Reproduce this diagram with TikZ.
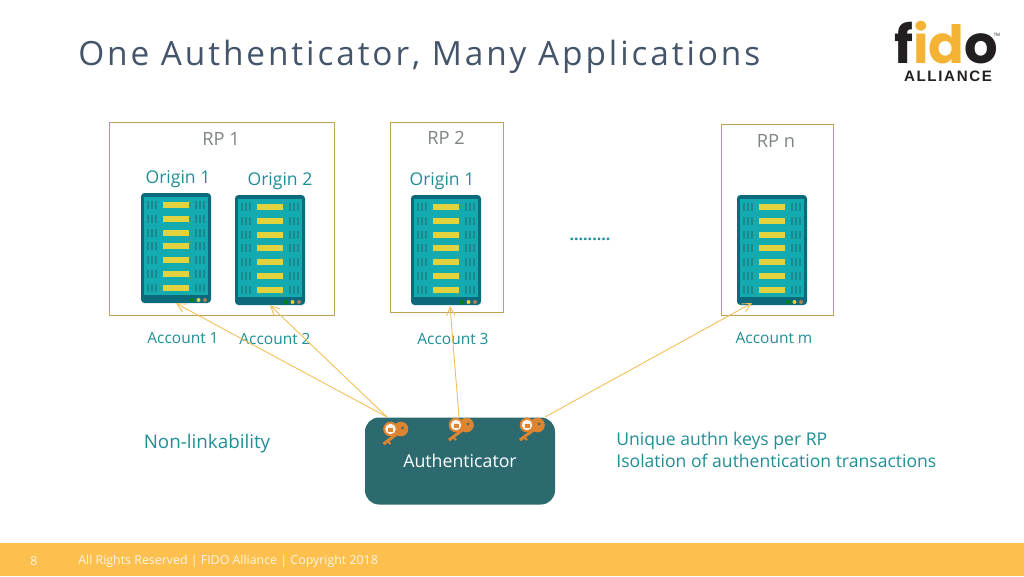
\documentclass[tikz,border=0pt]{standalone}
\usepackage{fontspec}
\setmainfont{Open Sans}
\newfontfamily\logofont{Poppins}
\newfontfamily\logosubfont[LetterSpace=11]{Liberation Sans}
\usetikzlibrary{positioning}
\usetikzlibrary{arrows.meta}

\definecolor{titleblue}{HTML}{44546A}
\definecolor{tealtext}{HTML}{1F8E96}
\definecolor{greytext}{HTML}{7F8487}
\definecolor{boxgold}{HTML}{BFA35A}
\definecolor{arrowgold}{HTML}{F2BE55}
\definecolor{barorange}{HTML}{FDC04F}
\definecolor{authteal}{HTML}{2C6A70}
\definecolor{rackdark}{HTML}{0D6A7C}
\definecolor{rackface}{HTML}{14ABB0}
\definecolor{rackvent}{HTML}{1A8A90}
\definecolor{rackbar}{HTML}{E2D33E}
\definecolor{keyorange}{HTML}{DD8430}
\definecolor{fidogold}{HTML}{F5B335}
\definecolor{fidoblack}{HTML}{231F20}

\tikzset{
  rpbox/.style={draw=boxgold, line width=0.6pt, fill=white, minimum height=0pt},
  rptext/.style={text=greytext, font=\fontsize{10.4}{12}\selectfont},
  origintext/.style={text=tealtext, font=\fontsize{10}{12}\selectfont},
  accounttext/.style={text=tealtext, font=\fontsize{8.8}{10}\selectfont},
  notetext/.style={text=tealtext, font=\fontsize{10}{12.5}\selectfont, align=left, inner sep=0pt},
  rack/.style={fill=rackdark, rounded corners=2pt, minimum width=70*0.02cm, minimum height=110*0.02cm, inner sep=0pt},
  link/.style={draw=arrowgold, line width=0.5pt, -{Straight Barb[length=5pt,width=5pt]}},
  pics/server/.style={code={
    \fill[rackface] (-32,-51) rectangle (32,47);
    \foreach \row in {-43,-29,-15,-2,12,26,40} {
      \fill[rackbar] (-13,\row-2.6) rectangle (13,\row+2.6);
      \foreach \vent in {-28,-24,-20,20,24,28}
        \fill[rackvent] (\vent-1,\row-4) rectangle (\vent+1,\row+4);
    }
    \fill[green!55!black] (16,52) circle (2);
    \fill[rackbar] (22.5,52) circle (2);
    \fill[brown!70!gray] (29,52) circle (2);
  }},
  pics/authkey/.style={code={
    \draw[keyorange, line width=1.7pt] (4,3) -- (-12,15);
    \draw[keyorange, line width=1.2pt] (-8,12) -- (-5,15);
    \fill[keyorange] (5.5,0) circle (7.3);
    \fill[authteal!80!keyorange] (7,-1) circle (1.7);
    \fill[keyorange] (-5,0) circle (7.3);
    \fill[white!90!keyorange] (-5,0) circle (5.3);
    \fill[keyorange] (-7.5,-1) rectangle (-2.5,3);
  }},
}

\begin{document}
\begin{tikzpicture}[x=0.02cm,y=-0.02cm]
  \useasboundingbox (0,0) rectangle (1024,576);

  % Title and logo
  \node[anchor=base west, inner sep=0pt, text=titleblue, font=\fontsize{19}{22}\selectfont\addfontfeature{LetterSpace=8.7}] (title) at (78,65) {One Authenticator, Many Applications};
  \node[anchor=base, inner sep=0pt, text=fidoblack, font=\logofont\fontsize{30}{30}\selectfont\bfseries] (logotext) at (946,63) {f\textcolor{fidogold}{id}o};
  \node[anchor=base, inner sep=0pt, text=fidoblack, font=\logosubfont\fontsize{8.6}{9}\selectfont\bfseries] (logosub) at (948,81) {ALLIANCE};
  \node[inner sep=0pt, text=fidoblack, font=\fontsize{2.5}{3}\selectfont] (logotm) at (997,35) {TM};

  % Relying parties
  \node[rpbox, anchor=north west, minimum width=225*0.02cm, minimum height=193*0.02cm] (rpA) at (109,122) {};
  \node[rpbox, anchor=north west, minimum width=113*0.02cm, minimum height=190*0.02cm] (rpB) at (390,122) {};
  \node[rpbox, anchor=north west, minimum width=112*0.02cm, minimum height=191*0.02cm] (rpC) at (721,124) {};

  \node[rptext] (rpAlabel) at (221,139) {RP 1};
  \node[rptext] (rpBlabel) at (446,138) {RP 2};
  \node[rptext] (rpClabel) at (776,141) {RP n};

  \node[origintext] (origA) at (178,179) {Origin 1};
  \node[origintext] (origB) at (280,181) {Origin 2};
  \node[origintext] (origC) at (442,181) {Origin 1};

  % Servers
  \node[rack] (srvA) at (176,248) {};
  \node[rack] (srvB) at (270,250) {};
  \node[rack] (srvC) at (446,250) {};
  \node[rack] (srvD) at (772,250) {};
  \pic at (srvA) {server};
  \pic at (srvB) {server};
  \pic at (srvC) {server};
  \pic at (srvD) {server};

  \node[text=tealtext, font=\fontsize{9}{11}\selectfont\bfseries] (dots) at (590,239) {.........};

  \node[accounttext] (accA) at (183,338) {Account 1};
  \node[accounttext] (accB) at (275,339) {Account 2};
  \node[accounttext] (accC) at (453,339) {Account 3};
  \node[accounttext] (accD) at (774,338) {Account m};

  % Authenticator
  \node[fill=authteal, rounded corners=8pt, minimum width=190*0.02cm, minimum height=87*0.02cm, text=white, font=\fontsize{10.1}{12}\selectfont] (auth) at (460,461) {Authenticator};

  \coordinate (keyA) at (387,417);
  \coordinate (keyB) at (459,417);
  \coordinate (keyC) at (545,417);
  \coordinate (tipC) at (450,306);
  \coordinate (tipD) at (752,303);

  \draw[link] (keyA) -- (srvA.south);
  \draw[link] (keyA) -- (srvB.south);
  \draw[link] (keyB) -- (tipC);
  \draw[link] (keyC) -- (tipD);

  \pic at (395.5,429) {authkey};
  \pic at (461,425) {authkey};
  \pic at (532,425) {authkey};

  \node[notetext, font=\fontsize{10.7}{13}\selectfont] (nonlink) at (207,444) {Non-linkability};
  \node[notetext, anchor=west] (notes) at (616,450) {Unique authn keys per RP\\Isolation of authentication transactions};

  % Footer
  \fill[barorange] (0,543) rectangle (1024,576);
  \node[text=white!85!barorange, font=\fontsize{7.05}{9}\selectfont] (pagenum) at (34,561) {8};
  \node[anchor=west, inner sep=0pt, text=white!85!barorange, font=\fontsize{7.05}{9}\selectfont] (footer) at (78,561) {All Rights Reserved | FIDO Alliance | Copyright 2018};
\end{tikzpicture}
\end{document}
